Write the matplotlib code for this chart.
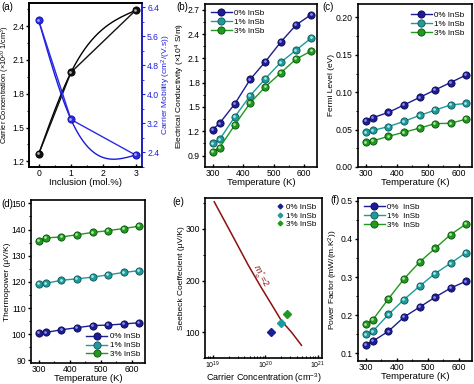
import numpy as np
import matplotlib
matplotlib.use('Agg')
import matplotlib.pyplot as plt
import matplotlib.transforms as mtransforms
from matplotlib.ticker import MultipleLocator, AutoMinorLocator, LogLocator, NullFormatter, FormatStrFormatter

plt.rcParams['font.family'] = ['Liberation Sans', 'DejaVu Sans']
plt.rcParams['mathtext.fontset'] = 'custom'
plt.rcParams['mathtext.rm'] = 'Liberation Sans'
plt.rcParams['mathtext.it'] = 'Liberation Sans:italic'
plt.rcParams['axes.linewidth'] = 1.2

# ---------------- data ----------------
inclusion = [0, 1, 3]
carrier_conc = [1.265, 1.99, 2.54]      # x10^20 1/cm^3
carrier_mob = [6.04, 3.31, 2.33]        # cm^2/(V.s)

temperature = [300, 323, 373, 423, 473, 523, 573, 623]
series_labels = ['0% InSb', '1% InSb', '3% InSb']

sigma_0 = [1.22, 1.30, 1.54, 1.84, 2.06, 2.30, 2.51, 2.64]
sigma_1 = [1.05, 1.10, 1.38, 1.64, 1.85, 2.05, 2.20, 2.35]
sigma_3 = [0.95, 1.00, 1.28, 1.55, 1.75, 1.92, 2.09, 2.19]

ef_0 = [0.062, 0.066, 0.073, 0.083, 0.093, 0.103, 0.113, 0.123]
ef_1 = [0.0465, 0.049, 0.054, 0.061, 0.069, 0.076, 0.083, 0.085]
ef_3 = [0.033, 0.035, 0.041, 0.0465, 0.052, 0.058, 0.0585, 0.064]

s_0 = [100.6, 100.7, 101.7, 102.5, 103.3, 103.5, 103.9, 104.4]
s_1 = [119.3, 119.5, 120.6, 121.2, 121.8, 122.7, 123.6, 124.3]
s_3 = [135.8, 136.8, 137.2, 138.0, 138.9, 139.6, 140.4, 141.3]

pf_0 = [0.123, 0.132, 0.158, 0.195, 0.221, 0.247, 0.271, 0.289]
pf_1 = [0.150, 0.158, 0.202, 0.241, 0.276, 0.309, 0.336, 0.364]
pf_3 = [0.1757, 0.188, 0.243, 0.295, 0.339, 0.375, 0.411, 0.439]

seebeck_n = [1.26e20, 1.98e20, 2.54e20]
seebeck_S = [100.6, 118.0, 136.0]

pisarenko_n = [1.06e19, 2.27e19, 4.71e19, 8.45e19, 1.31e20, 2.03e20, 3.15e20, 4.89e20]
pisarenko_S = [352.7, 290.5, 230.2, 185.7, 154.0, 122.0, 100.0, 74.6]

# ---------------- styles ----------------
W, H = 474, 384
colors = ['#1c1c96', '#1f9b9b', '#1f9a1f']
edges = ['#0a0a50', '#0b5555', '#0a500a']
highs = ['#8c8ce8', '#a8e8e8', '#a8e8a8']

fig = plt.figure(figsize=(W / 100, H / 100), dpi=100)

def add_ax(l, t, r, b):
    return fig.add_axes([l / W, 1 - b / H, (r - l) / W, (b - t) / H])

TICK_FS = 6.2
XLAB_FS = 6.8
YLAB_FS = 6.0
LEG_FS = 5.8

def style(ax, xdir='in', ydir='out'):
    ax.tick_params(axis='both', labelsize=TICK_FS, width=1, length=2.5, pad=1.2)
    ax.tick_params(axis='x', direction=xdir)
    ax.tick_params(axis='y', direction=ydir)
    ax.tick_params(which='minor', length=1.5, width=0.8)
    ax.tick_params(axis='x', which='minor', direction=xdir)
    ax.tick_params(axis='y', which='minor', direction=ydir)

def ball(ax, x, y, c, e, h, ms=5.2, lw=1.0, label=None, line=True):
    ax.plot(x, y, '-' if line else 'none', color=c, lw=lw, marker='o', ms=ms,
            mfc=c, mec=e, mew=0.6, label=label, zorder=3)
    tr = mtransforms.offset_copy(ax.transData, fig=fig, x=-0.5, y=0.5, units='points')
    ax.plot(x, y, 'none', marker='o', ms=ms * 0.38, mfc=h, mec='none',
            transform=tr, zorder=4)

def spline(xs, ys, n=200):
    xs = np.asarray(xs, float); ys = np.asarray(ys, float)
    k = len(xs); h = np.diff(xs)
    A = np.zeros((k, k)); rhs = np.zeros(k)
    A[0, 0] = 1; A[-1, -1] = 1
    for i in range(1, k - 1):
        A[i, i - 1] = h[i - 1]; A[i, i] = 2 * (h[i - 1] + h[i]); A[i, i + 1] = h[i]
        rhs[i] = 6 * ((ys[i + 1] - ys[i]) / h[i] - (ys[i] - ys[i - 1]) / h[i - 1])
    M = np.linalg.solve(A, rhs)
    xx = np.linspace(xs[0], xs[-1], n); yy = np.empty_like(xx)
    for j, x in enumerate(xx):
        i = min(np.searchsorted(xs, x, side='right') - 1, k - 2)
        t1 = xs[i + 1] - x; t0 = x - xs[i]
        yy[j] = (M[i] * t1 ** 3 + M[i + 1] * t0 ** 3) / (6 * h[i]) \
            + (ys[i] / h[i] - M[i] * h[i] / 6) * t1 + (ys[i + 1] / h[i] - M[i + 1] * h[i] / 6) * t0
    return xx, yy

TX = (275, 642)

def temp_axis(ax):
    ax.set_xlim(*TX)
    ax.xaxis.set_major_locator(MultipleLocator(100)); ax.xaxis.set_minor_locator(AutoMinorLocator(2))
    ax.set_xlabel('Temperature (K)', fontsize=XLAB_FS, labelpad=0.5)

def legend(ax, loc, pad):
    ax.legend(loc=loc, fontsize=LEG_FS, frameon=False, handlelength=2.6,
              handletextpad=0.3, labelspacing=0.15, borderaxespad=pad)

# ---------------- (a) ----------------
ax = add_ax(29, 3, 142, 167)
style(ax)
xx, yy = spline(inclusion, carrier_conc)
ax.plot(xx, yy, color='black', lw=1.0, zorder=2)
ball(ax, inclusion, carrier_conc, '#111111', '#000000', '#b0b0b0', line=False)
ax.set_xlim(-0.3, 3.2); ax.set_ylim(1.15, 2.606)
ax.xaxis.set_major_locator(MultipleLocator(1)); ax.xaxis.set_minor_locator(AutoMinorLocator(2))
ax.yaxis.set_major_locator(MultipleLocator(0.3)); ax.yaxis.set_minor_locator(AutoMinorLocator(2))
ax.yaxis.set_major_formatter(FormatStrFormatter('%.1f'))
ax.tick_params(axis='y', pad=0.8)
ax.set_xlabel('Inclusion (mol.%)', fontsize=XLAB_FS, labelpad=0.5)
ax.set_ylabel('Carrier Concentration (×10$^{20}$ 1/cm$^3$)', fontsize=5.3, labelpad=0.3)
ax2 = ax.twinx()
xx, yy = spline(inclusion, carrier_mob)
ax2.plot(xx, yy, color='#1a1ad8', lw=1.0, zorder=2)
ball(ax2, inclusion, carrier_mob, '#2a2ae6', '#10109a', '#a8a8ff', line=False)
ax2.set_ylim(2.0, 6.52)
ax2.yaxis.set_major_locator(MultipleLocator(0.8)); ax2.yaxis.set_minor_locator(AutoMinorLocator(2))
ax2.yaxis.set_major_formatter(FormatStrFormatter('%.1f'))
ax2.tick_params(axis='y', which='both', colors='#2222dd', labelsize=TICK_FS, direction='out', length=2.5, pad=1.2)
ax2.tick_params(axis='y', which='minor', length=1.5)
ax2.spines['right'].set_color('#2222dd')
ax2.set_ylabel('Carrier Mobility (cm$^2$/(V.s))', fontsize=YLAB_FS, color='#2222dd', labelpad=0.5)

# ---------------- (b) ----------------
ax = add_ax(205, 4, 317, 167)
style(ax)
for ys, c, e, h, lb in zip([sigma_0, sigma_1, sigma_3], colors, edges, highs, series_labels):
    ball(ax, temperature, ys, c, e, h, label=lb)
temp_axis(ax)
ax.set_ylim(0.76, 2.77)
ax.yaxis.set_major_locator(MultipleLocator(0.3)); ax.yaxis.set_minor_locator(AutoMinorLocator(2))
ax.yaxis.set_major_formatter(FormatStrFormatter('%.1f'))
ax.set_ylabel('Electrical Conductivity (×10$^4$ S/m)', fontsize=YLAB_FS, labelpad=0.5)
legend(ax, 'upper left', 0.3)

# ---------------- (c) ----------------
ax = add_ax(358, 4, 472, 167)
style(ax)
for ys, c, e, h, lb in zip([ef_0, ef_1, ef_3], colors, edges, highs, series_labels):
    ball(ax, temperature, ys, c, e, h, label=lb)
temp_axis(ax)
ax.set_ylim(0.0, 0.218)
ax.yaxis.set_major_locator(MultipleLocator(0.05)); ax.yaxis.set_minor_locator(AutoMinorLocator(2))
ax.yaxis.set_major_formatter(FormatStrFormatter('%.2f'))
ax.set_ylabel('Fermi Level (eV)', fontsize=YLAB_FS, labelpad=0.5)
legend(ax, 'upper right', 0.5)

# ---------------- (d) ----------------
ax = add_ax(31, 200, 145, 363)
style(ax)
for ys, c, e, h, lb in zip([s_0, s_1, s_3], colors, edges, highs, series_labels):
    ball(ax, temperature, ys, c, e, h, label=lb)
temp_axis(ax)
ax.set_ylim(89.0, 151.3)
ax.yaxis.set_major_locator(MultipleLocator(10)); ax.yaxis.set_minor_locator(AutoMinorLocator(2))
ax.set_ylabel('Thermopower (μV/K)', fontsize=YLAB_FS, labelpad=0.5)
legend(ax, 'lower right', 0.2)

# ---------------- (e) ----------------
ax = add_ax(205, 198, 322, 358)
style(ax)
ax.plot(pisarenko_n, pisarenko_S, color='#8b1010', lw=1.1, zorder=2)
for xv, yv, c, lb in zip(seebeck_n, seebeck_S, colors, series_labels):
    ax.plot([xv], [yv], 'D', color=c, ms=4, mec=c, label=lb, zorder=3)
ax.set_xscale('log')
ax.set_xlim(10 ** 18.85, 10 ** 21.08); ax.set_ylim(50, 360)
ax.xaxis.set_major_locator(LogLocator(base=10, numticks=10))
ax.xaxis.set_minor_locator(LogLocator(base=10, subs=np.arange(2, 10), numticks=20))
ax.xaxis.set_minor_formatter(NullFormatter())
ax.tick_params(axis='x', labelsize=5.0, pad=1.0)
ax.yaxis.set_major_locator(MultipleLocator(100)); ax.yaxis.set_minor_locator(AutoMinorLocator(2))
ax.set_xlabel('Carrier Concentration (cm$^{-3}$)', fontsize=6.5, labelpad=0.3)
ax.set_ylabel('Seebeck Coeffecient (μV/K)', fontsize=YLAB_FS, labelpad=0.5)
ax.text(10 ** 19.9, 207, '$m^*_o$=2', rotation=-62, fontsize=6.5, color='#8b1010',
        ha='center', va='center')
ax.legend(loc='upper right', fontsize=LEG_FS, frameon=False, handlelength=0.6,
          handletextpad=0.4, labelspacing=0.1, borderaxespad=0.3, markerscale=0.6)

# ---------------- (f) ----------------
ax = add_ax(358, 198, 472, 361)
style(ax)
for ys, c, e, h, lb in zip([pf_0, pf_1, pf_3], colors, edges, highs, ['0%  InSb', '1%  InSb', '3%  InSb']):
    ball(ax, temperature, ys, c, e, h, label=lb)
temp_axis(ax)
ax.set_ylim(0.08, 0.507)
ax.yaxis.set_major_locator(MultipleLocator(0.1)); ax.yaxis.set_minor_locator(AutoMinorLocator(2))
ax.yaxis.set_major_formatter(FormatStrFormatter('%.1f'))
ax.set_ylabel('Power Factor (mW/(m.K$^2$))', fontsize=YLAB_FS, labelpad=0.5)
legend(ax, 'upper left', 0.3)

# ---------------- panel labels ----------------
for s, x, y in [('(a)', 1, 7), ('(b)', 176, 7), ('(c)', 322, 7),
                ('(d)', 1, 204), ('(e)', 172, 202), ('(f)', 330, 200)]:
    fig.text(x / W, 1 - y / H, s, fontsize=7, ha='left', va='center')

fig.savefig('out.png', dpi=100)
